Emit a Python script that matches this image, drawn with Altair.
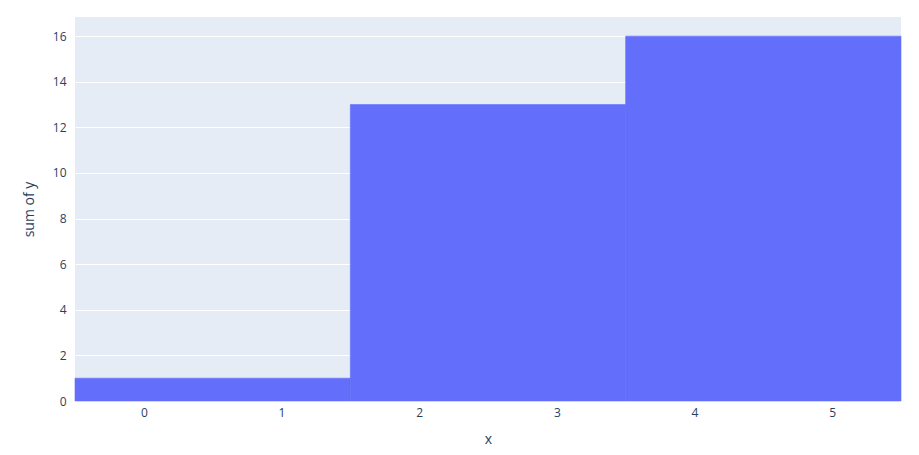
import altair as alt
import pandas as pd

# histogram bins (width 2) and summed y per bin
bin_start = [-0.5, 1.5, 3.5]
bin_end = [1.5, 3.5, 5.5]
sum_y = [1, 13, 16]

x_ticks = [0, 1, 2, 3, 4, 5]
y_ticks = [0, 2, 4, 6, 8, 10, 12, 14, 16]

df = pd.DataFrame({"start": bin_start, "end": bin_end, "sum_y": sum_y})

font = "Open Sans"
text_color = "#2a3f5f"

chart = alt.Chart(df).mark_rect(color="#636EFA", stroke="#636EFA", strokeWidth=0.6).encode(
    x=alt.X("start:Q",
            scale=alt.Scale(domain=[-0.5, 5.5], nice=False, zero=False),
            axis=alt.Axis(title="x", values=x_ticks, grid=False, domain=False,
                          ticks=False, labelPadding=6, titlePadding=14,
                          format="d")),
    x2="end:Q",
    y=alt.Y("sum_y:Q",
            scale=alt.Scale(domain=[0, 16.84], nice=False),
            axis=alt.Axis(title="sum of y", values=y_ticks, grid=True,
                          gridColor="white", gridWidth=1, domain=False,
                          ticks=False, labelPadding=9, titlePadding=16,
                          format="d")),
    y2=alt.datum(0),
).properties(
    width=826,
    height=384,
    autosize=alt.AutoSizeParams(type="none"),
    padding={"left": 67, "top": 9, "right": 10, "bottom": 60},
).configure_view(
    fill="#E5ECF6", stroke=None
).configure_axis(
    labelFont=font, labelFontSize=12, labelColor=text_color,
    titleFont=font, titleFontSize=14, titleColor=text_color,
    titleFontWeight="normal",
)

chart.save("out.html", embed_options={"renderer": "svg", "actions": False})
